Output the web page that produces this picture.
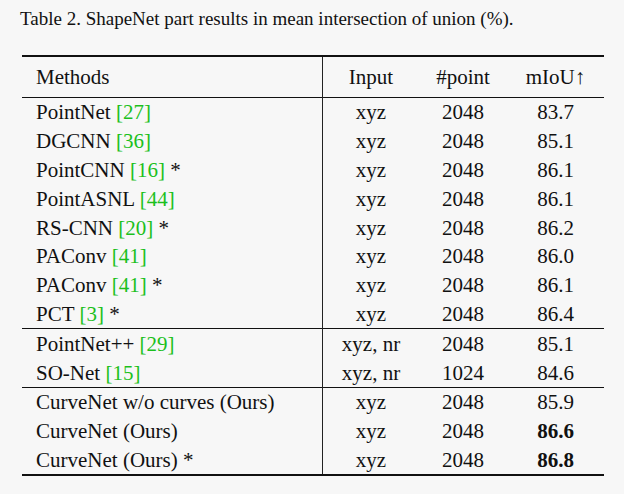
<!DOCTYPE html>
<html><head><meta charset="utf-8">
<script src="https://cdn.jsdelivr.net/npm/chart.js@4"></script>
<style>
body{margin:0;background:#f7f7f7;font-family:"Liberation Serif","DejaVu Serif",serif;color:#111;}
#cap{position:absolute;left:20px;top:8px;font-size:19px;}
table{position:absolute;left:22px;top:55px;width:582px;border-collapse:collapse;font-size:21px;}
td,th{font-weight:normal;height:28.8px;padding:0;line-height:28px;}
td.m,th.m{text-align:left;padding-left:14px;border-right:1px solid #222;width:286px;}
td.c,th.c{text-align:center;}
.ref{color:#1cc01c;}
tr.top{border-top:2px solid #111;}
tr.hd th{height:40px;}
tr.sep td{border-top:1.5px solid #111;}
tbody tr:last-child{border-bottom:2px solid #111;}
tr.hd{border-bottom:1.5px solid #111;}
</style></head><body>
<div id="cap">Table 2. ShapeNet part results in mean intersection of union (%).</div>
<table id="t"></table>
<script>
const methods=["PointNet","DGCNN","PointCNN","PointASNL","RS-CNN","PAConv","PAConv","PCT","PointNet++","SO-Net","CurveNet w/o curves (Ours)","CurveNet (Ours)","CurveNet (Ours)"];
const refs=[27,36,16,44,20,41,41,3,29,15,null,null,null];
const stars=[0,0,1,0,1,0,1,1,0,0,0,0,1];
const inputs=["xyz","xyz","xyz","xyz","xyz","xyz","xyz","xyz","xyz, nr","xyz, nr","xyz","xyz","xyz"];
const points=[2048,2048,2048,2048,2048,2048,2048,2048,2048,1024,2048,2048,2048];
const miou=["83.7","85.1","86.1","86.1","86.2","86.0","86.1","86.4","85.1","84.6","85.9","86.6","86.8"];
const groupStarts=[8,10];
const best=[11,12];
const t=document.getElementById("t");
let h='<thead><tr class="top hd"><th class="m">Methods</th><th class="c" style="width:96px">Input</th><th class="c" style="width:88px">#point</th><th class="c">mIoU↑</th></tr></thead><tbody>';
methods.forEach((m,i)=>{
  let name=m+(refs[i]!=null?' <span class="ref">['+refs[i]+']</span>':'')+(stars[i]?' *':'');
  let v=best.includes(i)?'<b>'+miou[i]+'</b>':miou[i];
  h+='<tr'+(groupStarts.includes(i)?' class="sep"':'')+'><td class="m">'+name+'</td><td class="c">'+inputs[i]+'</td><td class="c">'+points[i]+'</td><td class="c">'+v+'</td></tr>';
});
t.innerHTML=h+'</tbody>';
</script>
</body></html>
